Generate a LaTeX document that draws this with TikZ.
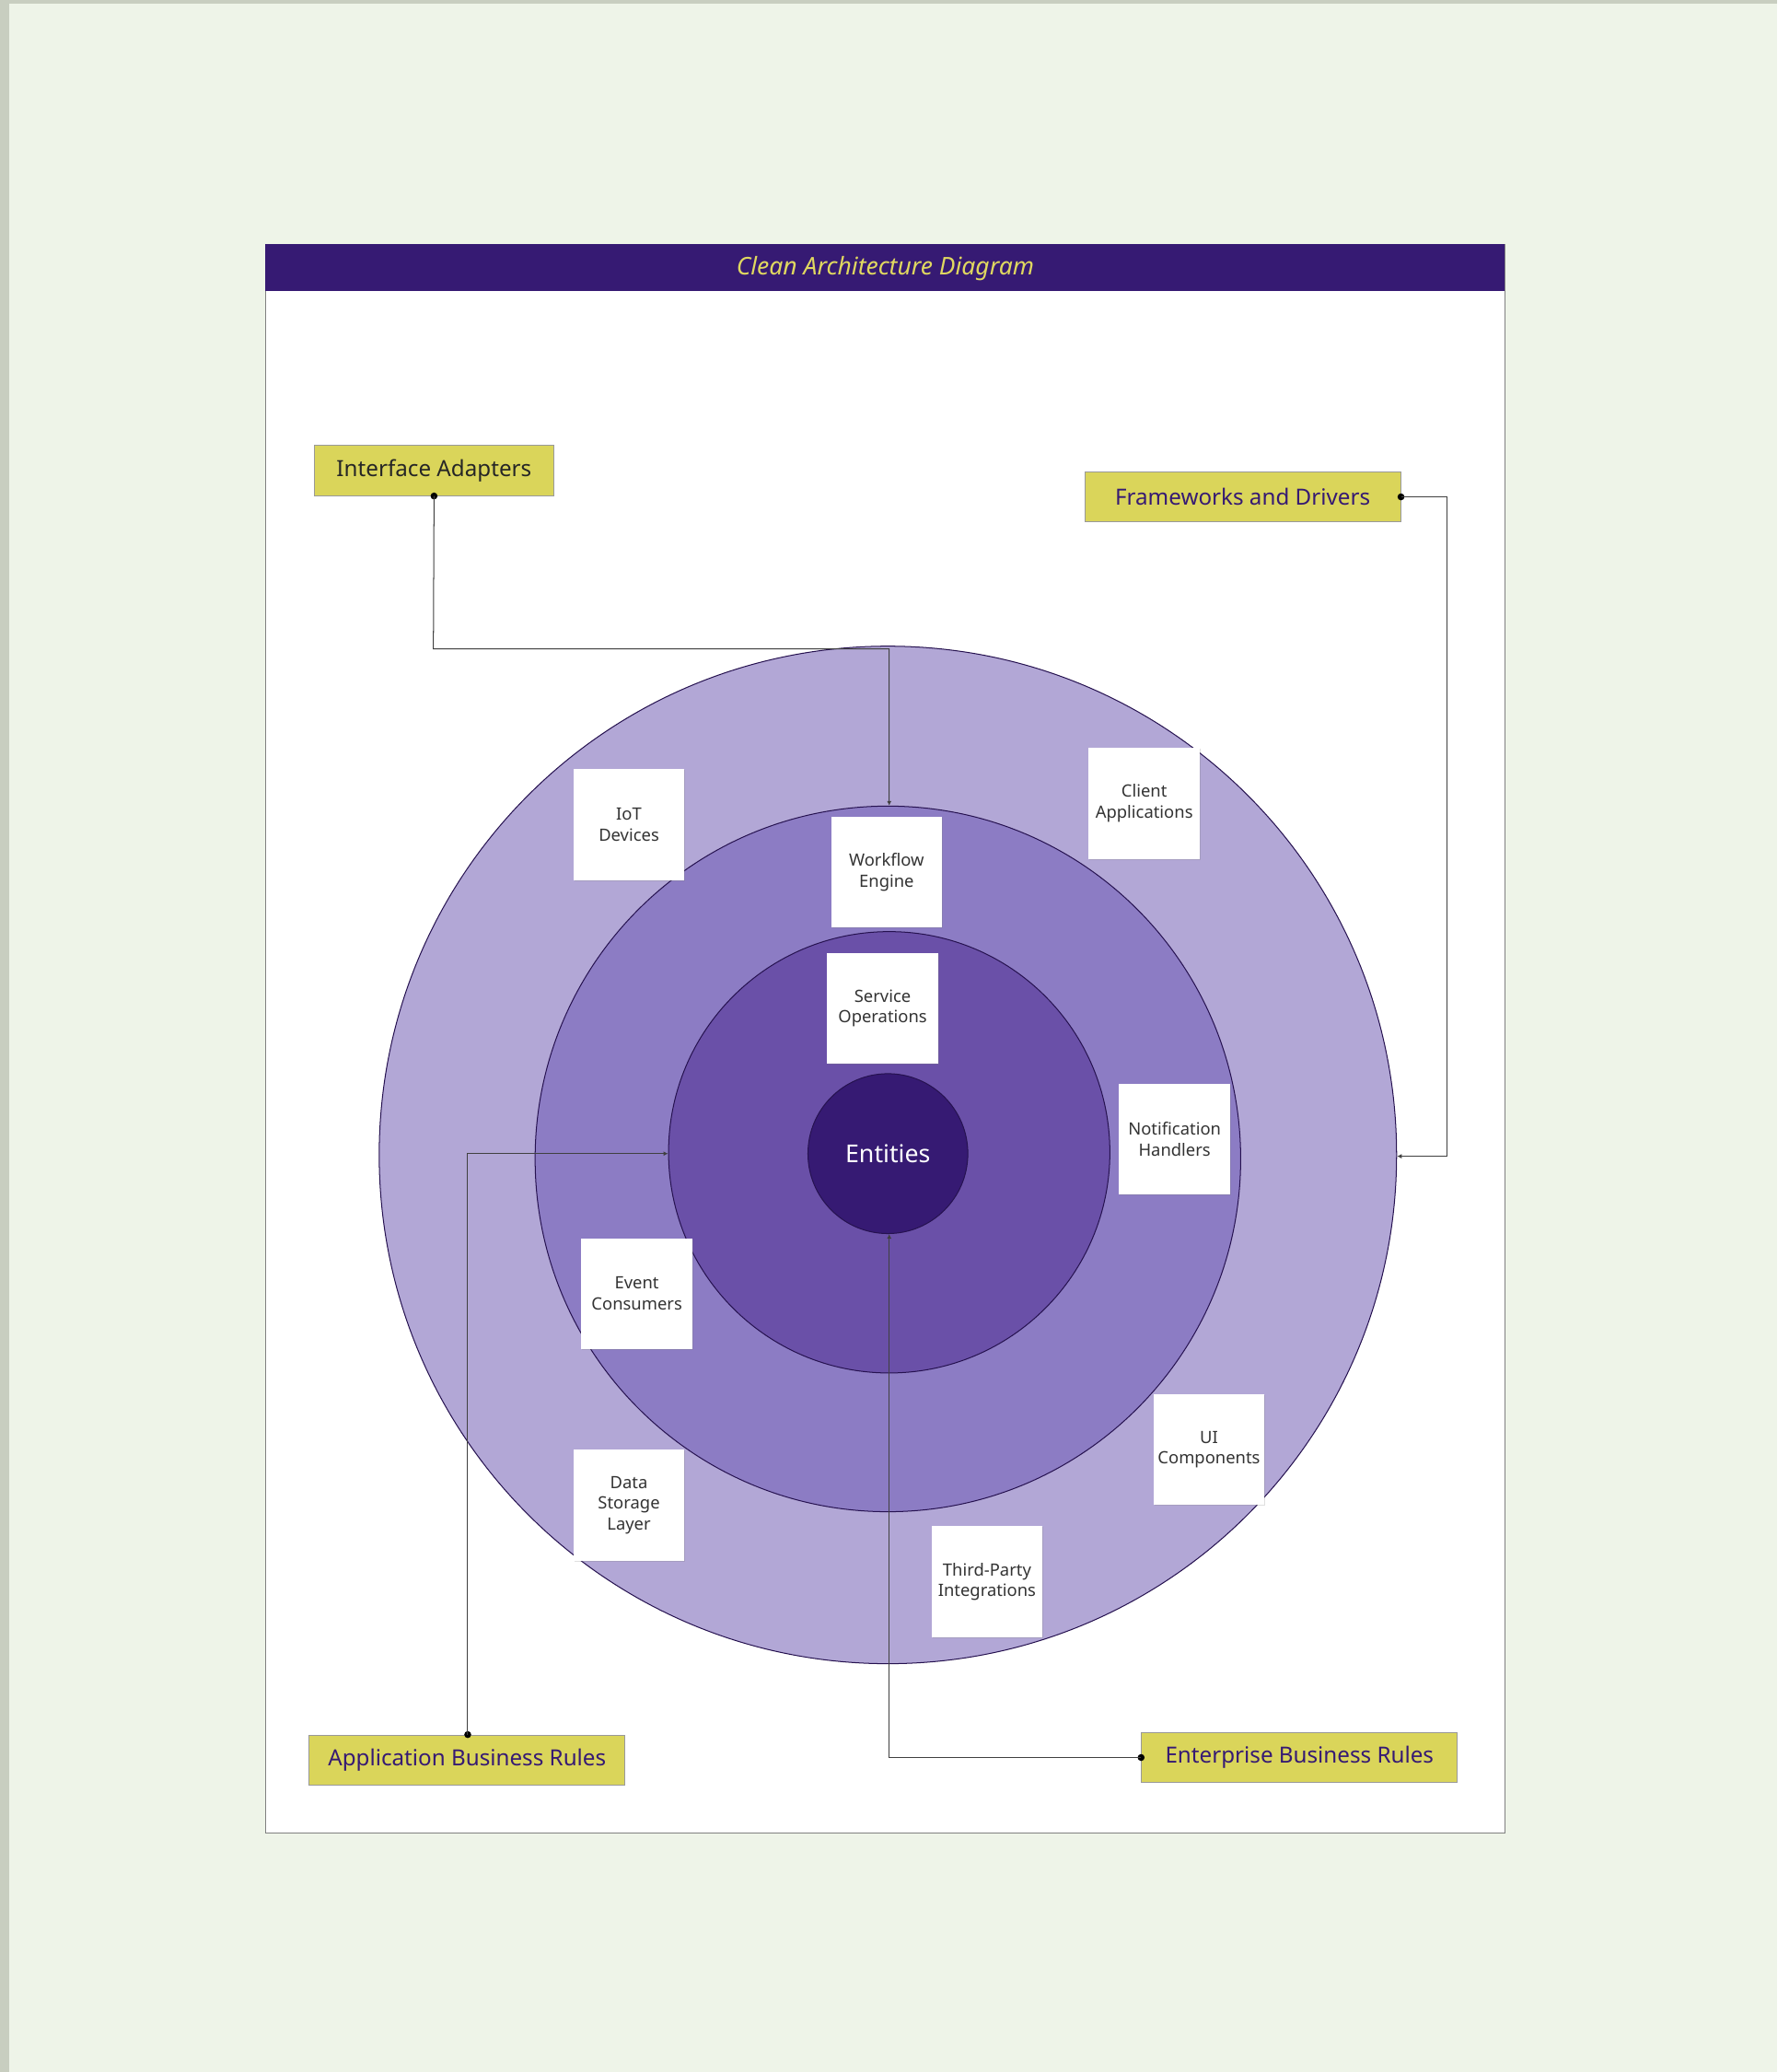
\documentclass[tikz,border=0pt]{standalone}
\usepackage{fontspec}
\setmainfont{Noto Sans}
\usetikzlibrary{shadows,arrows.meta}
\definecolor{bg}{HTML}{EEF4E8}
\definecolor{strip}{HTML}{C8CEC0}
\definecolor{dpurp}{HTML}{361A73}
\definecolor{ring1}{HTML}{B2A7D6}
\definecolor{ring2}{HTML}{8C7CC4}
\definecolor{ring3}{HTML}{6A50A8}
\definecolor{ylw}{HTML}{DAD55A}
\definecolor{ttl}{HTML}{E0D860}
\begin{document}
\begin{tikzpicture}[x=0.02cm,y=-0.02cm,
  ring/.style={circle,draw=dpurp!70!black,line width=0.4pt,inner sep=0pt},
  card/.style={fill=white,minimum width=84*0.02cm,minimum height=84*0.02cm,align=center,font=\fontsize{7.3}{9}\selectfont,text=black!80,inner sep=1pt,
    drop shadow={shadow xshift=0.4pt,shadow yshift=-0.4pt,opacity=0.25}},
  lab/.style={fill=ylw,draw=black!40,minimum height=38*0.02cm,font=\fontsize{9.6}{11}\selectfont,text=dpurp,inner sep=0pt},
  conn/.style={draw=black!75,line width=0.4pt},
  dot/.style={circle,fill=black,inner sep=0pt,minimum size=3pt}]
\useasboundingbox (0,0) rectangle (1345,1568);
\fill[bg] (0,0) rectangle (1345,1568);
\fill[strip] (0,0) rectangle (7,1568);
\fill[strip] (0,0) rectangle (1345,3);
\draw[fill=white,draw=black!50] (201,185) rectangle (1139,1387);
\fill[dpurp] (201,185) rectangle (1139,220);
\node[font=\bfseries\itshape\fontsize{10.5}{12}\selectfont,text=ttl] (title) at (670,203) {Clean Architecture Diagram};
\node[ring,fill=ring1,minimum size=770*0.02cm] (outer) at (672,874) {};
\node[ring,fill=ring2,minimum size=534*0.02cm] (mid) at (672,877) {};
\node[ring,fill=ring3,minimum size=334*0.02cm] (inner) at (673,872) {};
\node[ring,fill=dpurp,minimum size=121*0.02cm,text=white,font=\bfseries\fontsize{10.6}{12}\selectfont] (ent) at (672,873) {Entities};
\node[card] (iot) at (476,624) {IoT\\Devices};
\node[card] (wf) at (671,660) {Workflow\\Engine};
\node[card] (client) at (866,608) {Client\\Applications};
\node[card] (svc) at (668,763) {Service\\Operations};
\node[card] (notif) at (889,862) {Notification\\Handlers};
\node[card] (event) at (482,979) {Event\\Consumers};
\node[card] (ui) at (915,1097) {UI\\Components};
\node[card] (data) at (476,1139) {Data\\Storage\\Layer};
\node[card] (third) at (747,1197) {Third-Party\\Integrations};
\node[lab,minimum width=181*0.02cm,text=black!85] (ia) at (328.5,356) {Interface Adapters};
\node[lab,minimum width=239*0.02cm] (fd) at (940.5,376) {Frameworks and Drivers};
\node[lab,minimum width=239*0.02cm] (abr) at (353.5,1332) {Application Business Rules};
\node[lab,minimum width=239*0.02cm] (ebr) at (983.5,1330) {Enterprise Business Rules};
\node[dot] at (ia.south) {};
\node[dot] at (fd.east) {};
\node[dot] at (abr.north -| 354,0) {};
\node[dot] at (ebr.west) {};
\draw[conn,-{Latex[length=2pt,width=2pt]}] (ia.south) -- (328,491) -- (673,491) -- (mid.north -| 673,0);
\draw[conn,-{Latex[length=2pt,width=2pt]}] (fd.east) -- (1095,376) -- (1095,875) -- (outer.east |- 0,875);
\draw[conn,-{Latex[length=2pt,width=2pt]}] (abr.north -| 354,0) -- (354,873) -- (inner.west |- 0,873);
\draw[conn,-{Latex[length=2pt,width=2pt]}] (ebr.west) -- (673,1330) -- (ent.south -| 673,0);
\end{tikzpicture}
\end{document}
